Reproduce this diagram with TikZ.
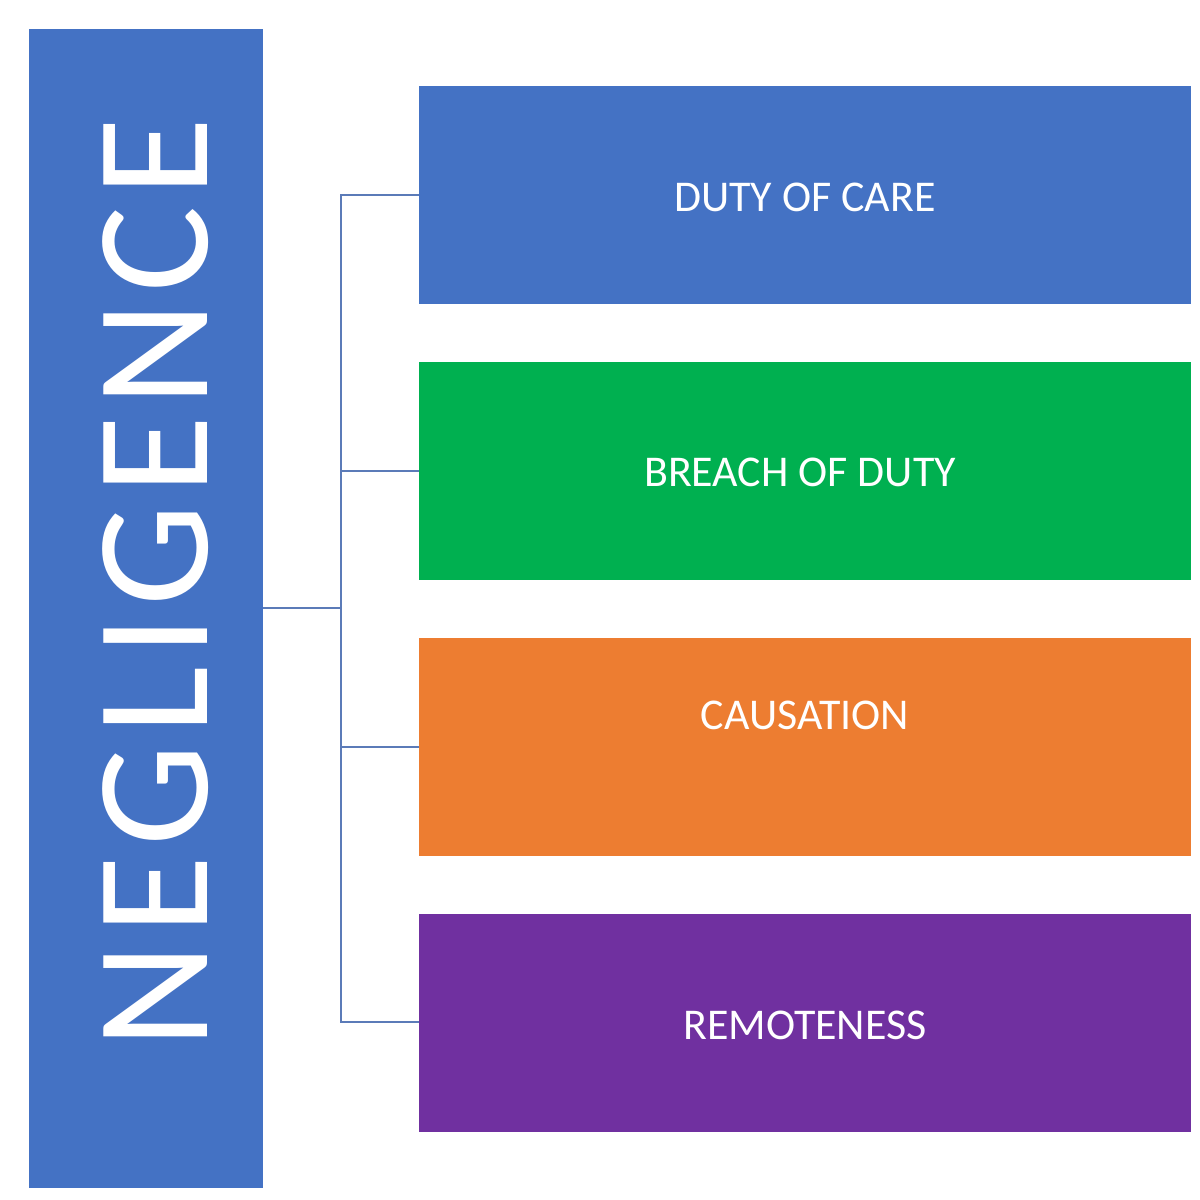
\documentclass[tikz,border=0pt]{standalone}
\usepackage{fontspec}
\setmainfont{Carlito}
\definecolor{cblue}{HTML}{4472C4}
\definecolor{cgreen}{HTML}{00B050}
\definecolor{corange}{HTML}{ED7D31}
\definecolor{cpurple}{HTML}{7030A0}
\definecolor{cline}{HTML}{5B7BB8}
\begin{document}
\begin{tikzpicture}[x=0.02cm,y=-0.02cm,
  box/.style={anchor=north west,inner sep=0,outer sep=0},
  lbl/.style={text=white,font=\fontsize{25}{30}\selectfont},
  conn/.style={draw=cline,line width=0.6pt}]
\useasboundingbox (0,0) rectangle (1200,1200);
\fill[white] (0,0) rectangle (1200,1200);
\fill[cblue] (29,29) rectangle (263,1188);
\coordinate (negR) at (263,608);
\node[text=white,rotate=90,font=\fontsize{92}{100}\selectfont,inner sep=0] (neg) at (156,583) {N\kern0.06em E\kern0.06em G\kern0.06em L\kern0.06em I\kern0.06em G\kern0.06em E\kern0.06em N\kern0.06em C\kern0.06em E};
\fill[cblue] (419,86) rectangle (1191,304);
\fill[cgreen] (419,362) rectangle (1191,580);
\fill[corange] (419,638) rectangle (1191,856);
\fill[cpurple] (419,914) rectangle (1191,1132);
\coordinate (b1) at (419,195);
\coordinate (b2) at (419,471);
\coordinate (b3) at (419,747);
\coordinate (b4) at (419,1022);
\node[lbl] at (805,197) {DUTY OF CARE};
\node[lbl] at (800,472) {BREACH OF DUTY};
\node[lbl] at (805,715) {CAUSATION};
\node[lbl] at (805,1025) {REMOTENESS};
\coordinate (j) at (341,608);
\draw[conn] (negR) -- (j);
\draw[conn] (b1) -| (j);
\draw[conn] (b4) -| (j);
\draw[conn] (b2) -- (341,471);
\draw[conn] (b3) -- (341,747);
\end{tikzpicture}
\end{document}
